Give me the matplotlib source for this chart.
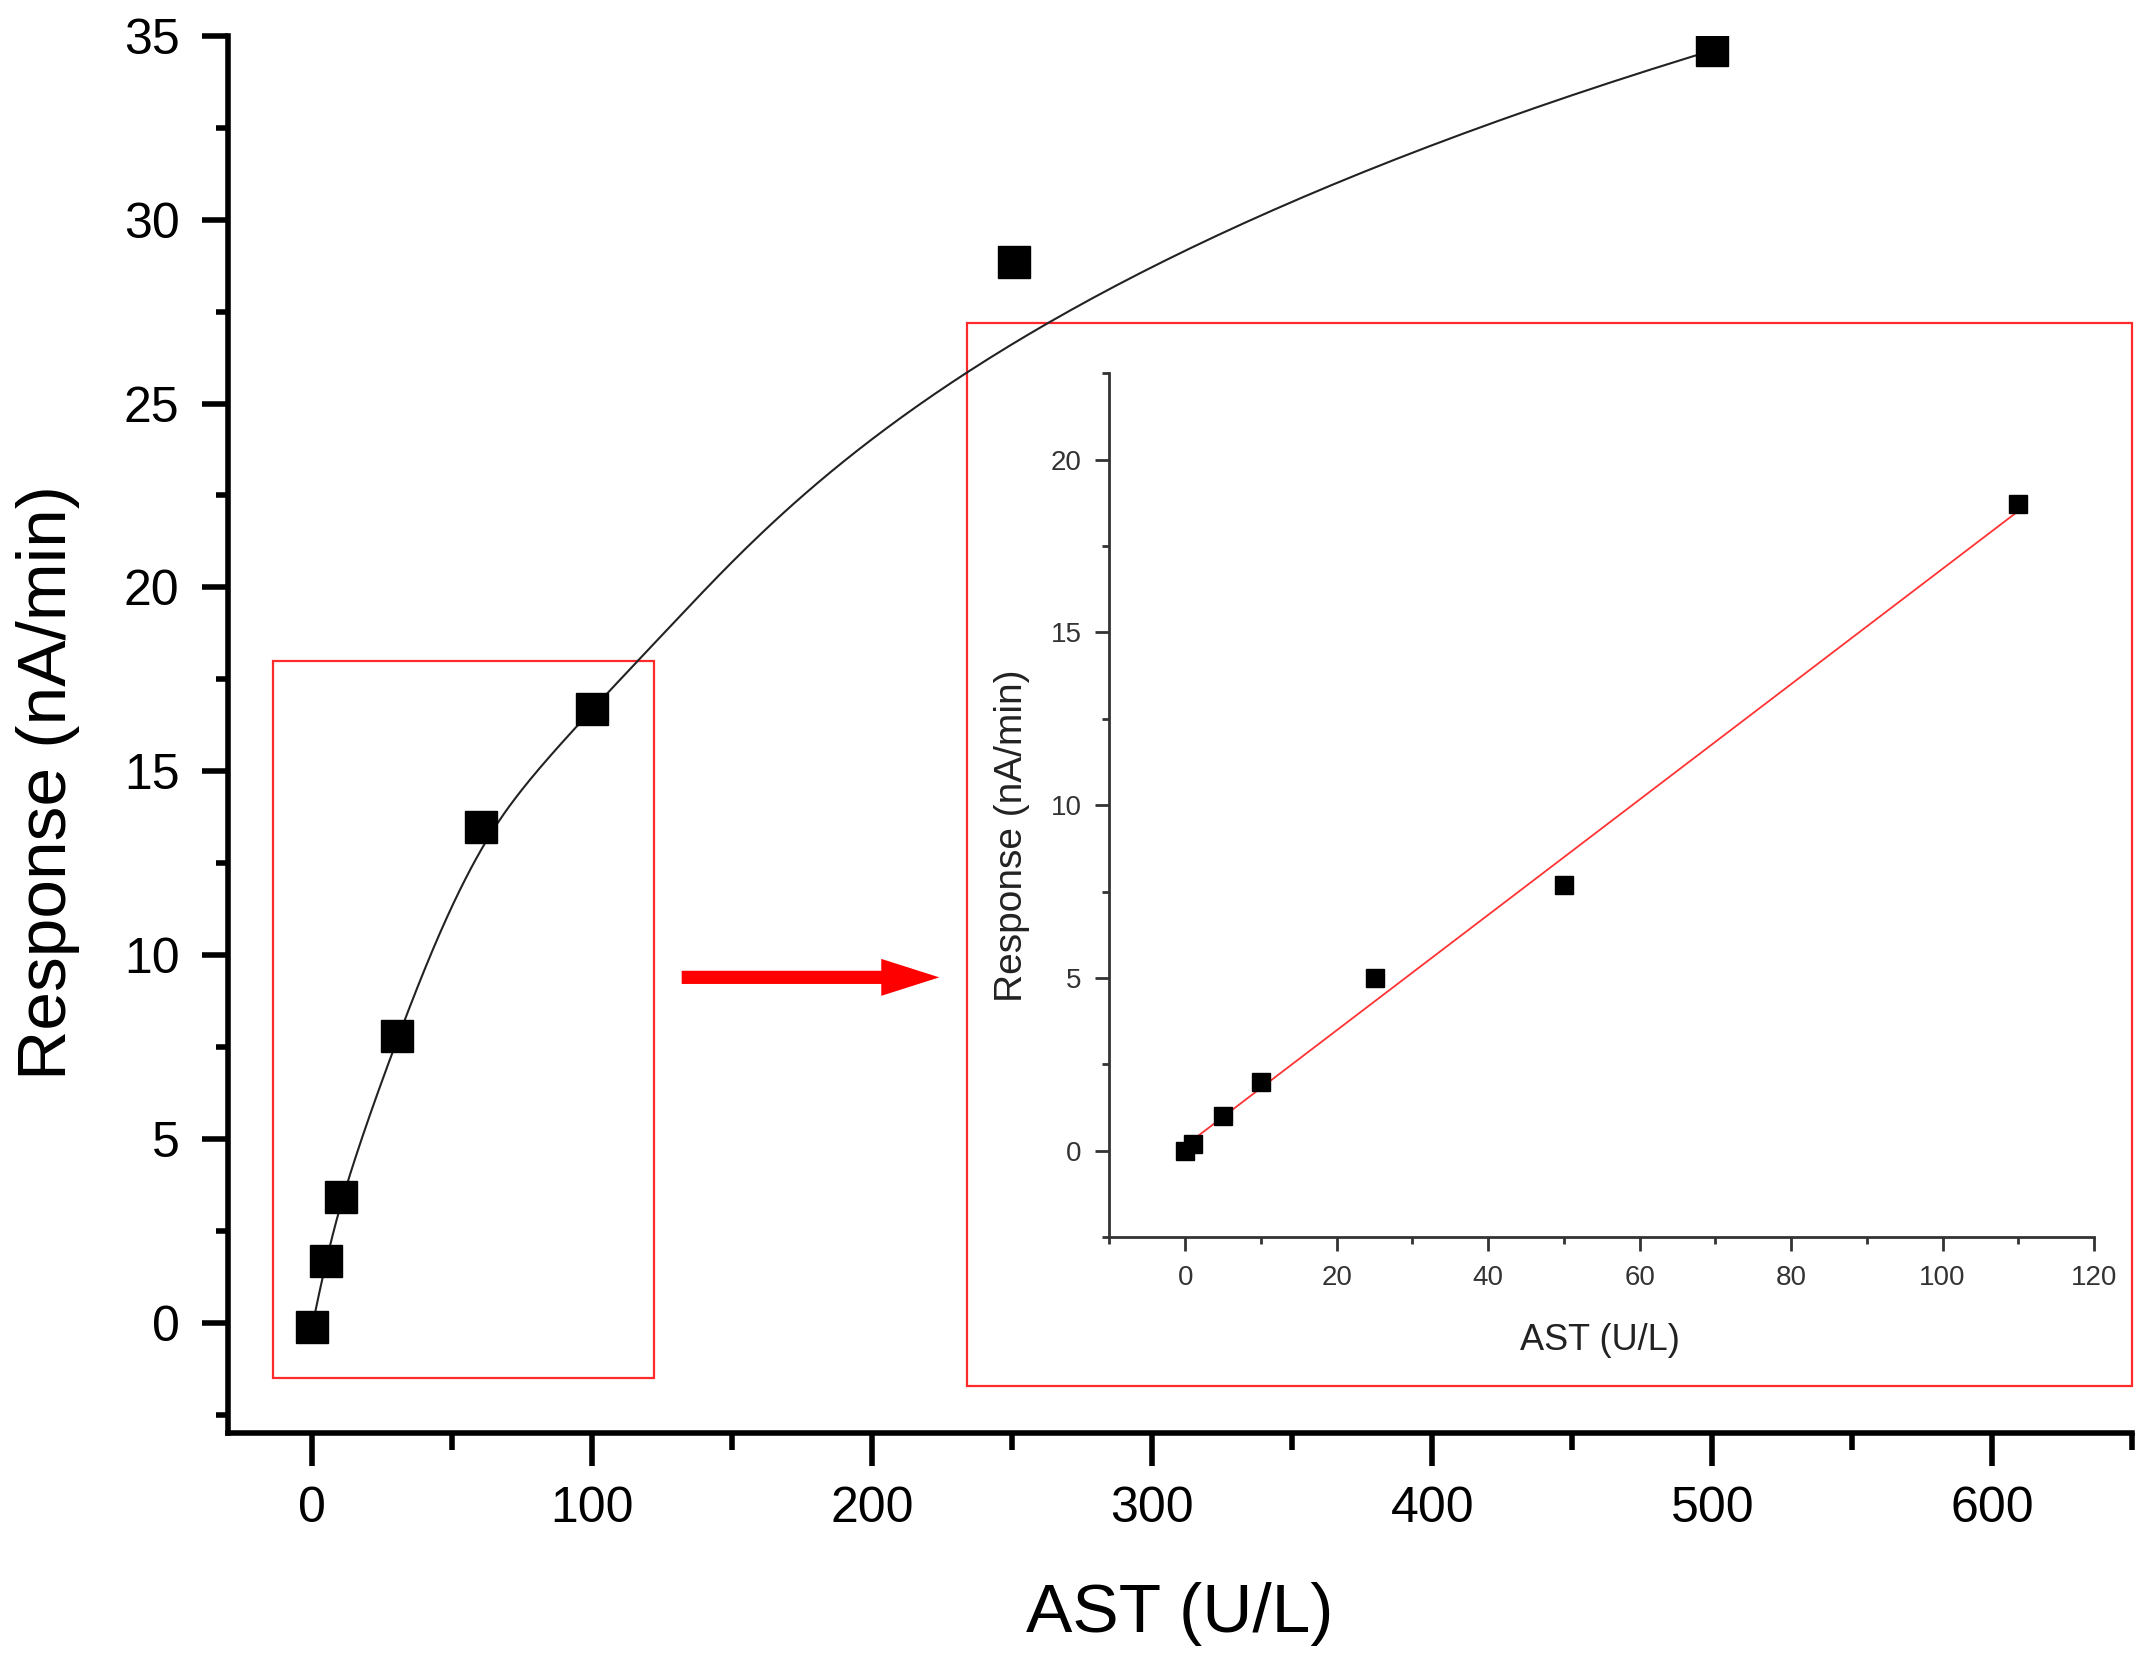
import numpy as np
import matplotlib
matplotlib.use("Agg")
from matplotlib import pyplot as plt
from matplotlib.patches import Rectangle
from matplotlib.ticker import MultipleLocator

plt.rcParams['font.family'] = ['Liberation Sans', 'DejaVu Sans']

# main calibration data
ast_main = [0, 4.9, 10.3, 30.4, 60.4, 100.1, 250.7, 500.0]
resp_main = [-0.11, 1.68, 3.44, 7.81, 13.49, 16.70, 28.84, 34.60]

# inset: linear range
ast_lin = [0, 1, 5, 10, 25, 50, 110]
resp_lin = [0.0, 0.2, 1.0, 2.0, 5.0, 7.7, 18.7]


def bspline(px, py, degree=3, num=500):
    # clamped uniform B-spline with the data points as control points
    px, py = np.asarray(px, float), np.asarray(py, float)
    n = len(px)
    knots = np.concatenate([np.zeros(degree), np.arange(0, n - degree + 1), np.full(degree, n - degree)])
    t = np.linspace(0, n - degree, num)

    def basis(i, k):
        if k == 0:
            b = ((knots[i] <= t) & (t < knots[i + 1])).astype(float)
            if knots[i] < knots[i + 1] == knots[-1]:
                b[t == knots[-1]] = 1.0
            return b
        out = np.zeros_like(t)
        d1 = knots[i + k] - knots[i]
        if d1 > 0:
            out += (t - knots[i]) / d1 * basis(i, k - 1)
        d2 = knots[i + k + 1] - knots[i + 1]
        if d2 > 0:
            out += (knots[i + k + 1] - t) / d2 * basis(i + 1, k - 1)
        return out

    B = np.array([basis(i, degree) for i in range(n)])
    return px @ B, py @ B


fig = plt.figure(figsize=(21.53, 16.68), dpi=100)

ax = fig.add_axes([0.1059, 0.1406, 0.8845, 0.838])
cx, cy = bspline(ast_main, resp_main)
ax.plot(cx, cy, color='#222222', lw=1.5, zorder=2)
ax.plot(ast_main, resp_main, 's', color='black', ms=23, zorder=3)

ax.set_xlim(-30, 650)
ax.set_ylim(-3, 35)
ax.xaxis.set_major_locator(MultipleLocator(100))
ax.xaxis.set_minor_locator(MultipleLocator(50))
ax.yaxis.set_major_locator(MultipleLocator(5))
ax.yaxis.set_minor_locator(MultipleLocator(2.5))
for s in ['top', 'right']:
    ax.spines[s].set_visible(False)
for s in ['left', 'bottom']:
    ax.spines[s].set_linewidth(4)
ax.tick_params(axis='y', which='major', direction='out', length=19, width=4, labelsize=36, pad=16)
ax.tick_params(axis='y', which='minor', direction='out', length=9, width=4)
ax.tick_params(axis='x', which='major', direction='out', length=24, width=4, labelsize=36, pad=14)
ax.tick_params(axis='x', which='minor', direction='out', length=12, width=4)
ax.set_xlabel('AST (U/L)', fontsize=50, va='center')
ax.set_ylabel('Response (nA/min)', fontsize=50, va='center')
ax.xaxis.set_label_coords(0.4996, -0.1295)
ax.yaxis.set_label_coords(-0.0945, 0.466)

# red frames and arrow
ax.add_patch(Rectangle((-14, -1.5), 136, 19.5, fill=False, ec='#ff2a2a', lw=1.6, zorder=1))
ax.add_patch(Rectangle((234, -1.7), 416, 28.9, fill=False, ec='#ff2a2a', lw=1.6, zorder=1, clip_on=False))
ax.annotate('', xy=(224, 9.4), xytext=(132, 9.4),
            arrowprops=dict(arrowstyle='simple,tail_width=0.5,head_width=1.4,head_length=2.2',
                            mutation_scale=19, color='red', lw=0, shrinkA=0, shrinkB=0))

# inset
ins = fig.add_axes([0.5153, 0.2582, 0.4573, 0.5181])
fit = np.polyfit(ast_lin, resp_lin, 1)
fx = np.array([0, max(ast_lin)])
ins.plot(fx, np.polyval(fit, fx), color='#ff3333', lw=1.3, zorder=2)
ins.plot(ast_lin, resp_lin, 's', color='black', ms=13, zorder=3)
ins.set_xlim(-10, 120)
ins.set_ylim(-2.5, 22.5)
ins.xaxis.set_major_locator(MultipleLocator(20))
ins.xaxis.set_minor_locator(MultipleLocator(10))
ins.yaxis.set_major_locator(MultipleLocator(5))
ins.yaxis.set_minor_locator(MultipleLocator(2.5))
for s in ['top', 'right']:
    ins.spines[s].set_visible(False)
for s in ['left', 'bottom']:
    ins.spines[s].set_linewidth(2)
    ins.spines[s].set_color('#333333')
ins.tick_params(which='major', direction='out', length=10, width=2, color='#333333',
                labelsize=20, labelcolor='#333333', pad=10)
ins.tick_params(which='minor', direction='out', length=5, width=2, color='#333333')
ins.set_xlabel('AST (U/L)', fontsize=26, color='#222222', va='center')
ins.set_ylabel('Response (nA/min)', fontsize=28, color='#222222', va='center')
ins.xaxis.set_label_coords(0.498, -0.119)
ins.yaxis.set_label_coords(-0.099, 0.465)

fig.savefig('out.png', dpi=100, facecolor='white')
